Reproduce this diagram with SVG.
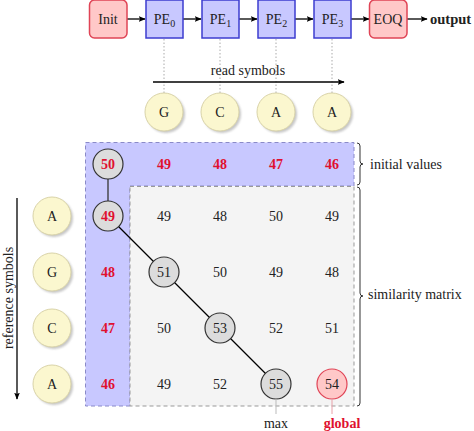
<svg xmlns="http://www.w3.org/2000/svg" width="474" height="431" viewBox="0 0 474 431" font-family="'Liberation Serif', 'DejaVu Serif', serif">
<style>
text{font-family:'Liberation Serif','DejaVu Serif','Times New Roman',serif;font-size:14px;fill:#222;text-anchor:middle}
text.l{text-anchor:start}
text.init,text.glob{fill:#e0102f;font-weight:bold}
text.bold{font-weight:bold;font-size:14.5px}
.pe{fill:#c8c8ff;stroke:#3c3cd0;stroke-width:1.5}
.rd{fill:#ffc8c8;stroke:#e04456;stroke-width:1.5}
.sym{fill:#fbf7cf;stroke:#d9d3a8;stroke-width:1}
.shd{fill:#999;opacity:0.55}
.cell{fill:#dcdcdc;stroke:#333;stroke-width:1.2}
.dot{stroke:#aaa;stroke-width:1;stroke-dasharray:1.5,2}
.arr{stroke:#000;stroke-width:1.3;fill:none}
.brace{stroke:#333;stroke-width:1;fill:none}
</style>
<defs>
<marker id="ah" viewBox="0 0 10 10" refX="9" refY="5" markerWidth="7" markerHeight="7" orient="auto" markerUnits="userSpaceOnUse">
<path d="M0,1 L10,5 L0,9 L2,5 Z" fill="#000"/>
</marker>
<filter id="blur" x="-30%" y="-30%" width="160%" height="160%"><feGaussianBlur stdDeviation="1.2"/></filter>
</defs>

<g id="connectors">
<line class="arr" x1="127" y1="19" x2="145" y2="19" marker-end="url(#ah)"/>
<line class="arr" x1="183" y1="19" x2="201" y2="19" marker-end="url(#ah)"/>
<line class="arr" x1="239" y1="19" x2="257" y2="19" marker-end="url(#ah)"/>
<line class="arr" x1="295" y1="19" x2="313" y2="19" marker-end="url(#ah)"/>
<line class="arr" x1="351" y1="19" x2="369" y2="19" marker-end="url(#ah)"/>
<line class="arr" x1="407" y1="19" x2="427" y2="19" marker-end="url(#ah)"/>
<line class="dot" x1="164" y1="39" x2="164" y2="93"/>
<line class="dot" x1="220" y1="39" x2="220" y2="93"/>
<line class="dot" x1="276" y1="39" x2="276" y2="93"/>
<line class="dot" x1="332" y1="39" x2="332" y2="93"/>
<line class="arr" x1="153" y1="82" x2="344" y2="82" marker-end="url(#ah)"/>
<line class="arr" x1="17" y1="198" x2="17" y2="399" marker-end="url(#ah)"/>
</g>

<g id="pipeline">
<g id="init"><rect class="rd" x="89.5" y="0" width="37.5" height="38" rx="5"/><text x="108" y="24">Init</text></g>
<g id="pe0"><rect class="pe" x="146" y="0" width="37" height="38"/><text x="164.5" y="24">PE<tspan font-size="10" dy="3">0</tspan></text></g>
<g id="pe1"><rect class="pe" x="202" y="0" width="37" height="38"/><text x="220.5" y="24">PE<tspan font-size="10" dy="3">1</tspan></text></g>
<g id="pe2"><rect class="pe" x="258" y="0" width="37" height="38"/><text x="276.5" y="24">PE<tspan font-size="10" dy="3">2</tspan></text></g>
<g id="pe3"><rect class="pe" x="314" y="0" width="37" height="38"/><text x="332.5" y="24">PE<tspan font-size="10" dy="3">3</tspan></text></g>
<g id="eoq"><rect class="rd" x="369.5" y="0" width="37.5" height="38" rx="5"/><text x="388" y="24">EOQ</text></g>
<text id="output" class="bold l" x="430" y="24">output</text>
<text id="read-label" x="248" y="75">read symbols</text>
</g>

<g id="read-symbols">
<g id="r0"><circle class="shd" cx="166" cy="114" r="19" filter="url(#blur)"/><circle class="sym" cx="164" cy="112" r="19"/><text x="164" y="117">G</text></g>
<g id="r1"><circle class="shd" cx="222" cy="114" r="19" filter="url(#blur)"/><circle class="sym" cx="220" cy="112" r="19"/><text x="220" y="117">C</text></g>
<g id="r2"><circle class="shd" cx="278" cy="114" r="19" filter="url(#blur)"/><circle class="sym" cx="276" cy="112" r="19"/><text x="276" y="117">A</text></g>
<g id="r3"><circle class="shd" cx="334" cy="114" r="19" filter="url(#blur)"/><circle class="sym" cx="332" cy="112" r="19"/><text x="332" y="117">A</text></g>
</g>

<g id="ref-symbols">
<text x="9" y="298" transform="rotate(-90 9 298)" dy="4">reference symbols</text>
<g id="s0"><circle class="shd" cx="54" cy="218" r="19" filter="url(#blur)"/><circle class="sym" cx="52" cy="216" r="19"/><text x="52" y="221">A</text></g>
<g id="s1"><circle class="shd" cx="54" cy="274" r="19" filter="url(#blur)"/><circle class="sym" cx="52" cy="272" r="19"/><text x="52" y="277">G</text></g>
<g id="s2"><circle class="shd" cx="54" cy="330" r="19" filter="url(#blur)"/><circle class="sym" cx="52" cy="328" r="19"/><text x="52" y="333">C</text></g>
<g id="s3"><circle class="shd" cx="54" cy="386" r="19" filter="url(#blur)"/><circle class="sym" cx="52" cy="384" r="19"/><text x="52" y="389">A</text></g>
</g>

<g id="matrix">
<path d="M85.5,142.5 H354 V186 H130 V406 H85.5 Z" fill="#c8c8ff" stroke="#8a8ac8" stroke-width="1" stroke-dasharray="4,3"/>
<rect x="130" y="186.5" width="224" height="219.5" fill="#f4f4f4" stroke="#999" stroke-width="1" stroke-dasharray="4,3"/>
</g>

<g id="path">
<line x1="108" y1="179" x2="108" y2="201" stroke="#333" stroke-width="1.3"/>
<line x1="108" y1="216" x2="276" y2="384" stroke="#000" stroke-width="1.3"/>
</g>

<g id="cells">
<circle class="cell" cx="108" cy="164" r="15"/>
<circle class="cell" cx="108" cy="216" r="15"/>
<circle class="cell" cx="164" cy="272" r="15"/>
<circle class="cell" cx="220" cy="328" r="15"/>
<circle class="cell" cx="276" cy="384" r="15"/>
<circle cx="332" cy="384" r="15" fill="#ffc8c8" stroke="#e04456" stroke-width="1.2"/>
<text class="init" x="108" y="169">50</text>
<text class="init" x="164" y="169">49</text>
<text class="init" x="220" y="169">48</text>
<text class="init" x="276" y="169">47</text>
<text class="init" x="332" y="169">46</text>
<text class="init" x="108" y="221">49</text>
<text class="init" x="108" y="277">48</text>
<text class="init" x="108" y="333">47</text>
<text class="init" x="108" y="389">46</text>
<text x="164" y="221">49</text><text x="220" y="221">48</text><text x="276" y="221">50</text><text x="332" y="221">49</text>
<text x="164" y="277">51</text><text x="220" y="277">50</text><text x="276" y="277">49</text><text x="332" y="277">48</text>
<text x="164" y="333">50</text><text x="220" y="333">53</text><text x="276" y="333">52</text><text x="332" y="333">51</text>
<text x="164" y="389">49</text><text x="220" y="389">52</text><text x="276" y="389">55</text><text x="332" y="389">54</text>
</g>

<g id="annotations">
<path class="brace" d="M357,143 q3,0 3,3 v15 q0,3 3,3 q-3,0 -3,3 v15 q0,3 -3,3"/>
<text class="l" x="370" y="169">initial values</text>
<path class="brace" d="M357,187 q3,0 3,3 v103 q0,3 3,3 q-3,0 -3,3 v104 q0,3 -3,3"/>
<text class="l" x="368" y="299">similarity matrix</text>
<line x1="276" y1="399" x2="276" y2="414" stroke="#bbb" stroke-width="1"/>
<text x="276" y="428">max</text>
<line x1="332" y1="399" x2="332" y2="414" stroke="#e8a0a8" stroke-width="1"/>
<text class="glob" x="342" y="428">global</text>
</g>
</svg>
